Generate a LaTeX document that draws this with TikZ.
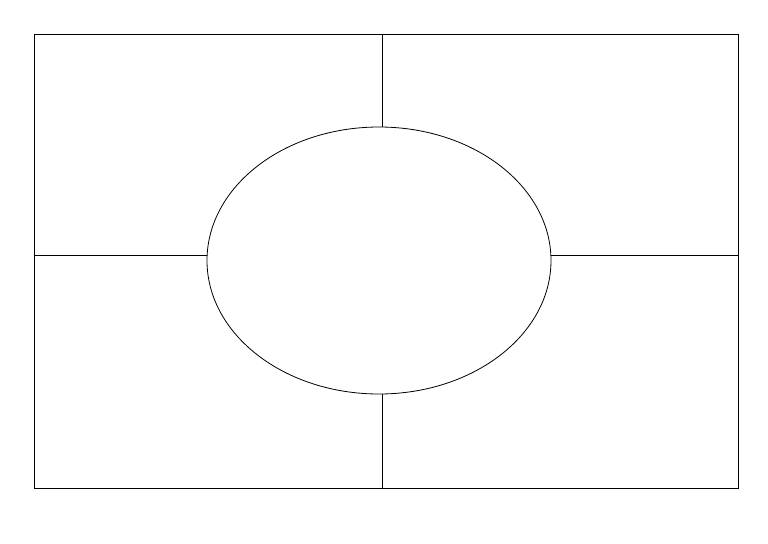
\documentclass[tikz,border=0pt]{standalone}
\usetikzlibrary{shapes.geometric}
\begin{document}
\begin{tikzpicture}[x=0.75pt,y=-0.75pt,
  frame/.style={draw=black,line width=0.6pt},
  link/.style={draw=black,line width=0.6pt},
  oval/.style={ellipse,draw=black,line width=0.6pt,inner sep=0pt,
    minimum width=344*0.75pt,minimum height=267*0.75pt}]
\useasboundingbox (0,0) rectangle (768,543);
\fill[white] (0,0) rectangle (768,543);
\draw[frame] (34,34) rectangle (738,488);
\node[oval] (e) at (379,260.5) {};
\coordinate (t) at (382,34);
\coordinate (b) at (382,488);
\coordinate (l) at (34,255);
\coordinate (r) at (738,255);
\coordinate (et) at (382,127);
\coordinate (eb) at (382,394);
\coordinate (el) at (207.1,255);
\coordinate (er) at (550.9,255);
\draw[link] (t) -- (et);
\draw[link] (eb) -- (b);
\draw[link] (l) -- (el);
\draw[link] (er) -- (r);
\end{tikzpicture}
\end{document}
